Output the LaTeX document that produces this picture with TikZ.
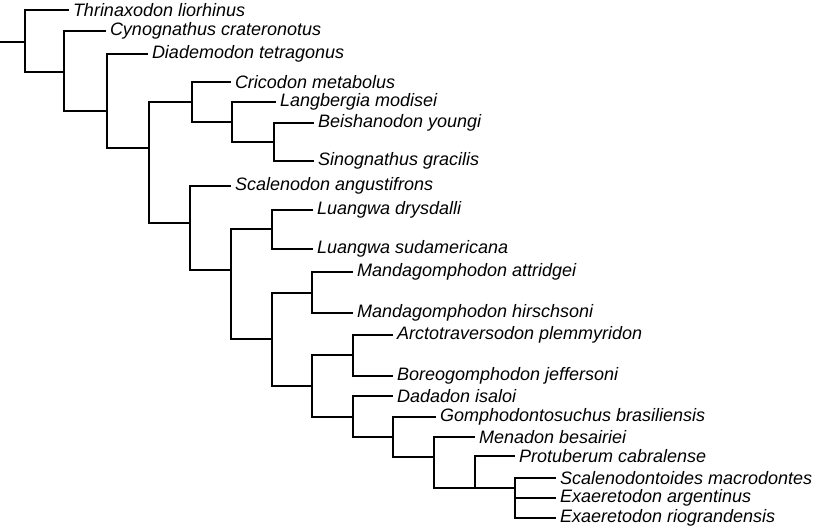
\documentclass[tikz,border=0pt]{standalone}
\usepackage{fontspec}
\setmainfont{Liberation Sans}
\begin{document}
\begin{tikzpicture}[x=1pt,y=-1pt,line width=2pt,
  lab/.style={anchor=west,inner sep=0pt,font=\fontsize{18}{20}\selectfont\itshape},
  br/.style={draw,line cap=rect}]
\useasboundingbox (0,0) rectangle (813,530);
% leaves
\coordinate (t1) at (68,10); \coordinate (t2) at (105,31); \coordinate (t3) at (147,54);
\coordinate (t4) at (230,82); \coordinate (t5) at (275,102); \coordinate (t6) at (313,123);
\coordinate (t7) at (313,161); \coordinate (t8) at (230,186); \coordinate (t9) at (312,210);
\coordinate (t10) at (312,249); \coordinate (t11) at (352,272); \coordinate (t12) at (352,313);
\coordinate (t13) at (392,335); \coordinate (t14) at (392,376); \coordinate (t15) at (392,396);
\coordinate (t16) at (435,417); \coordinate (t17) at (474,437); \coordinate (t18) at (514,456);
\coordinate (t19) at (555,478); \coordinate (t20) at (555,498); \coordinate (t21) at (555,518);
\foreach \i/\t in {1/Thrinaxodon liorhinus,2/Cynognathus crateronotus,3/Diademodon tetragonus,
 4/Cricodon metabolus,5/Langbergia modisei,6/Beishanodon youngi,7/Sinognathus gracilis,
 8/Scalenodon angustifrons,9/Luangwa drysdalli,10/Luangwa sudamericana,11/Mandagomphodon attridgei,
 12/Mandagomphodon hirschsoni,13/Arctotraversodon plemmyridon,14/Boreogomphodon jeffersoni,
 15/Dadadon isaloi,16/Gomphodontosuchus brasiliensis,17/Menadon besairiei,18/Protuberum cabralense,
 19/Scalenodontoides macrodontes,20/Exaeretodon argentinus,21/Exaeretodon riograndensis}
 \node[lab] (n\i) at ([xshift=4pt]t\i) {\t};
% tree
\coordinate (s0) at (0,42);
\draw[br] (s0) -| (25,10) -- (t1);
\draw[br] (25,42) |- (64,72);
\draw[br] (64,31) -- (t2); \draw[br] (64,31) |- (107,111) ;
\draw[br] (107,54) -- (t3); \draw[br] (107,54) |- (149,148);
\draw[br] (149,102) -- (149,223);
\draw[br] (149,102) -| (192,82) -- (t4); \draw[br] (192,82) |- (232,122);
\draw[br] (232,102) -- (t5); \draw[br] (232,102) |- (274,142);
\draw[br] (t6) -| (274,161) -- (t7);
\draw[br] (149,223) -| (190,186) -- (t8); \draw[br] (190,186) |- (231,270);
\draw[br] (231,229) -- (231,339);
\draw[br] (231,229) -| (272,210) -- (t9); \draw[br] (272,210) |- (t10);
\draw[br] (231,339) -| (272,293) -- (272,386);
\draw[br] (272,293) -| (312,272) -- (t11); \draw[br] (312,272) |- (t12);
\draw[br] (272,386) -| (312,355) -- (312,417);
\draw[br] (312,355) -| (353,335) -- (t13); \draw[br] (353,335) |- (t14);
\draw[br] (312,417) -| (353,396) -- (t15); \draw[br] (353,396) |- (393,437);
\draw[br] (393,417) -- (t16); \draw[br] (393,417) |- (434,457);
\draw[br] (434,437) -- (t17); \draw[br] (434,437) |- (475,488);
\draw[br] (475,456) -- (t18); \draw[br] (475,456) |- (515,488);
\draw[br] (t19) -| (515,518) -- (t21); \draw[br] (515,498) -- (t20);
\end{tikzpicture}
\end{document}
